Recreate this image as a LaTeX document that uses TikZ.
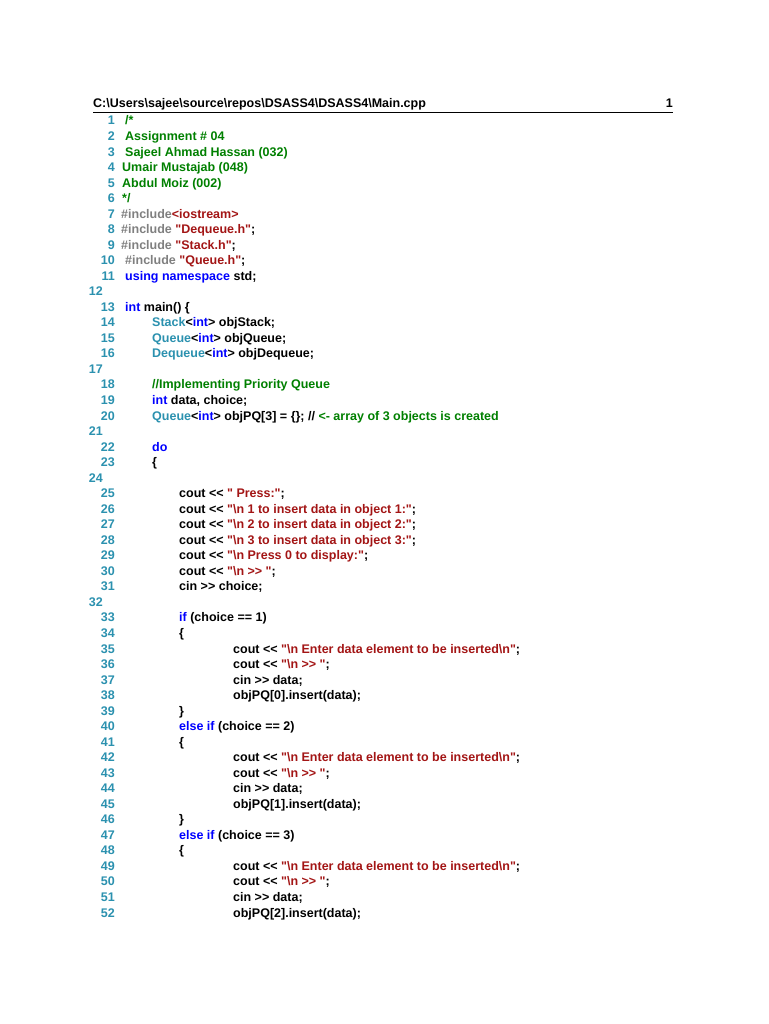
\documentclass[tikz,border=0pt]{standalone}
\usepackage{fontspec}
\newfontfamily\codefont{Liberation Sans}
\definecolor{kw}{RGB}{0,0,255}
\definecolor{st}{RGB}{163,21,21}
\definecolor{cm}{RGB}{0,128,0}
\definecolor{pp}{RGB}{128,128,128}
\definecolor{ty}{RGB}{43,145,175}
\definecolor{ln}{RGB}{43,145,175}
\newcommand{\Kw}[1]{\textcolor{kw}{#1}}
\newcommand{\Sx}[1]{\textcolor{st}{#1}}
\newcommand{\Cm}[1]{\textcolor{cm}{#1}}
\newcommand{\Pp}[1]{\textcolor{pp}{#1}}
\newcommand{\Ty}[1]{\textcolor{ty}{#1}}
\newcommand{\bs}{\textbackslash}
\tikzset{code/.style={anchor=base west,inner sep=0pt,font=\codefont\bfseries\fontsize{12.5}{13}\selectfont},
 num/.style={anchor=base east,inner sep=0pt,text=ln,font=\codefont\bfseries\fontsize{12.5}{13}\selectfont}}
\newcommand{\Ln}[3]{%
 \pgfmathsetmacro\yy{1024-(121+(#1-1)*15.53)-4}%
 \node[num] (n#1) at (115,\yy) {#1};
 \node[code] (c#1) at (#2,\yy) {#3};}
\newcommand{\Bl}[1]{%
 \pgfmathsetmacro\yy{1024-(121+(#1-1)*15.53)-4}%
 \node[num] (n#1) at (103,\yy) {#1};}
\begin{document}
\begin{tikzpicture}[x=1pt,y=1pt]
\useasboundingbox (0,0) rectangle (768,1024);
\fill[white] (0,0) rectangle (768,1024);
\node[code] (hdr) at (93,916) {C:\bs Users\bs sajee\bs source\bs repos\bs DSASS4\bs DSASS4\bs Main.cpp};
\node[anchor=base east,inner sep=0pt,font=\codefont\bfseries\fontsize{12.5}{13}\selectfont] (pg) at (673,916) {1};
\draw[line width=1pt] (93,911) -- (673,911);
\Ln{1}{125}{\Cm{/*}}
\Ln{2}{125}{\Cm{Assignment \# 04}}
\Ln{3}{125}{\Cm{Sajeel Ahmad Hassan (032)}}
\Ln{4}{122}{\Cm{Umair Mustajab (048)}}
\Ln{5}{122}{\Cm{Abdul Moiz (002)}}
\Ln{6}{122}{\Cm{*/}}
\Ln{7}{121}{\Pp{\#include}\Sx{<iostream>}}
\Ln{8}{121}{\Pp{\#include }\Sx{"Dequeue.h"};}
\Ln{9}{121}{\Pp{\#include }\Sx{"Stack.h"};}
\Ln{10}{125}{\Pp{\#include }\Sx{"Queue.h"};}
\Ln{11}{125}{\Kw{using namespace} std;}
\Bl{12}
\Ln{13}{125}{\Kw{int} main() \{}
\Ln{14}{152}{\Ty{Stack}<\Kw{int}> objStack;}
\Ln{15}{152}{\Ty{Queue}<\Kw{int}> objQueue;}
\Ln{16}{152}{\Ty{Dequeue}<\Kw{int}> objDequeue;}
\Bl{17}
\Ln{18}{152}{\Cm{//Implementing Priority Queue}}
\Ln{19}{152}{\Kw{int} data, choice;}
\Ln{20}{152}{\Ty{Queue}<\Kw{int}> objPQ[3] = \{\}; // \Cm{ <- array of 3 objects is created}}
\Bl{21}
\Ln{22}{152}{\Kw{do}}
\Ln{23}{152}{\{}
\Bl{24}
\Ln{25}{179}{cout << \Sx{" Press:"};}
\Ln{26}{179}{cout << \Sx{"\bs n 1 to insert data in object 1:"};}
\Ln{27}{179}{cout << \Sx{"\bs n 2 to insert data in object 2:"};}
\Ln{28}{179}{cout << \Sx{"\bs n 3 to insert data in object 3:"};}
\Ln{29}{179}{cout << \Sx{"\bs n Press 0 to display:"};}
\Ln{30}{179}{cout << \Sx{"\bs n >> "};}
\Ln{31}{179}{cin >> choice;}
\Bl{32}
\Ln{33}{179}{\Kw{if} (choice == 1)}
\Ln{34}{179}{\{}
\Ln{35}{233}{cout << \Sx{"\bs n Enter data element to be inserted\bs n"};}
\Ln{36}{233}{cout << \Sx{"\bs n >> "};}
\Ln{37}{233}{cin >> data;}
\Ln{38}{233}{objPQ[0].insert(data);}
\Ln{39}{179}{\}}
\Ln{40}{179}{\Kw{else if} (choice == 2)}
\Ln{41}{179}{\{}
\Ln{42}{233}{cout << \Sx{"\bs n Enter data element to be inserted\bs n"};}
\Ln{43}{233}{cout << \Sx{"\bs n >> "};}
\Ln{44}{233}{cin >> data;}
\Ln{45}{233}{objPQ[1].insert(data);}
\Ln{46}{179}{\}}
\Ln{47}{179}{\Kw{else if} (choice == 3)}
\Ln{48}{179}{\{}
\Ln{49}{233}{cout << \Sx{"\bs n Enter data element to be inserted\bs n"};}
\Ln{50}{233}{cout << \Sx{"\bs n >> "};}
\Ln{51}{233}{cin >> data;}
\Ln{52}{233}{objPQ[2].insert(data);}
\end{tikzpicture}
\end{document}
